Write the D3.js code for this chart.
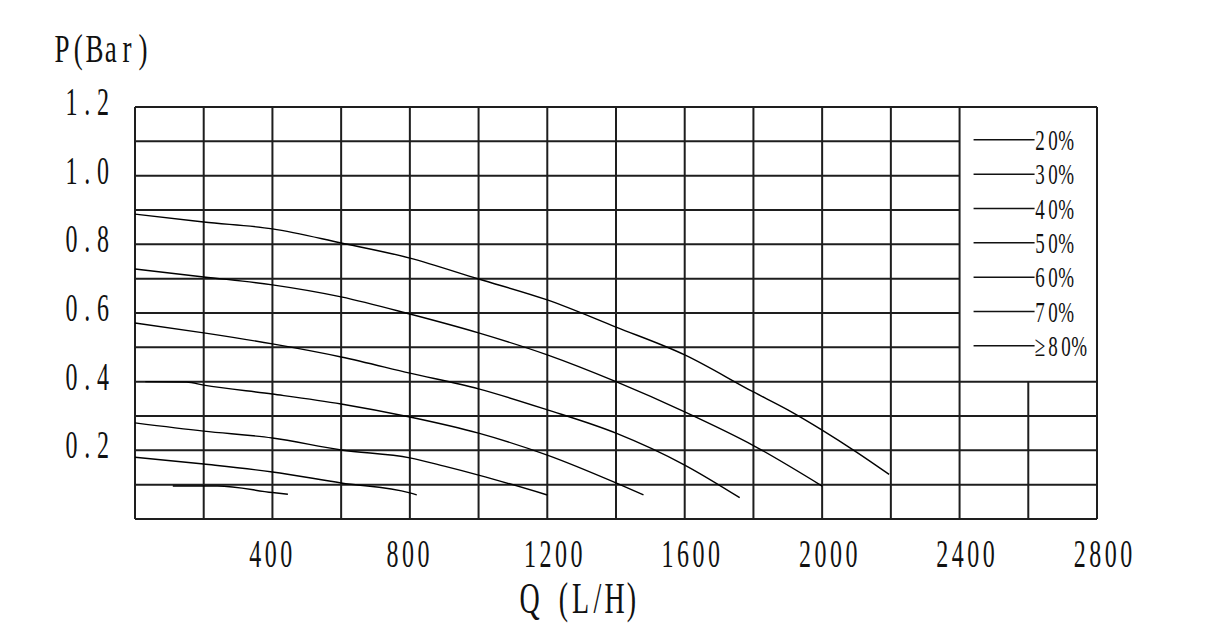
<!DOCTYPE html>
<html><head><meta charset="utf-8">
<script src="https://cdn.jsdelivr.net/npm/d3@7"></script>
<style>body{margin:0;background:#fff} svg{display:block}</style>
</head><body><svg id="c" width="1231" height="641"></svg>
<script>
// ---- data ----
const xTickLabels = [400, 800, 1200, 1600, 2000, 2400, 2800];
const yTickLabels = [1.2, 1.0, 0.8, 0.6, 0.4, 0.2];
const legendLabels = ["20%", "30%", "40%", "50%", "60%", "70%", "≥80%"];
const s20 = [[110,0.096],[240,0.096],[400,0.077],[445,0.072]];
const s30 = [[0,0.18],[200,0.16],[400,0.137],[600,0.105],[800,0.076],[820,0.07]];
const s40 = [[0,0.28],[200,0.256],[400,0.236],[600,0.201],[800,0.178],[900,0.154],[1000,0.128],[1200,0.07]];
const s50 = [[30,0.40],[150,0.399],[200,0.39],[400,0.364],[600,0.335],[800,0.297],[1000,0.25],[1200,0.186],[1400,0.105],[1480,0.07]];
const s60 = [[0,0.571],[200,0.542],[400,0.51],[600,0.472],[800,0.425],[1000,0.379],[1200,0.318],[1400,0.25],[1600,0.157],[1760,0.062]];
const s70 = [[0,0.728],[200,0.705],[400,0.682],[600,0.647],[800,0.597],[1000,0.542],[1200,0.478],[1400,0.40],[1600,0.312],[1800,0.214],[2000,0.096]];
const s80 = [[0,0.888],[200,0.865],[400,0.845],[600,0.804],[800,0.76],[1000,0.699],[1200,0.638],[1400,0.559],[1600,0.478],[1800,0.37],[1900,0.318],[2000,0.259],[2100,0.195],[2195,0.13]];
const series = [s20, s30, s40, s50, s60, s70, s80];

// ---- layout ----
const svg = d3.select("#c");
const x = d3.scaleLinear().domain([0, 2800]).range([135, 1097]);
const y = d3.scaleLinear().domain([0, 1.2]).range([519, 107]);
const gridColor = "#1e1e1e";
const FONT = "Liberation Serif";

// monospaced-cell text, stretched vertically
function label(px, py, str, size, sy, anchor, adv) {
  const chars = Array.from(str);
  const total = chars.length * adv;
  const start = anchor === "end" ? px - total : px;
  const t = svg.append("text")
    .attr("transform", `translate(${start},${py}) scale(1,${sy})`)
    .attr("font-family", FONT)
    .attr("font-size", size)
    .attr("fill", "#111")
    .attr("text-anchor", "middle");
  chars.forEach((c, i) => t.append("tspan").attr("x", i * adv + adv / 2).attr("y", 0).text(c));
}

// grid
const g = svg.append("g").attr("stroke", gridColor).attr("stroke-width", 2).attr("fill", "none");
d3.range(0, 2801, 200).forEach(v => {
  const top = v === 2600 ? 0.4 : 1.2;
  g.append("line").attr("x1", x(v)).attr("x2", x(v)).attr("y1", y(0)).attr("y2", y(top));
});
d3.range(0, 13).forEach(i => {
  const p = i / 10;
  const right = (i >= 5 && i <= 11) ? 2400 : 2800;
  g.append("line").attr("x1", x(0)).attr("x2", x(right)).attr("y1", y(p)).attr("y2", y(p));
});

// curves
const line = d3.line().x(d => x(d[0])).y(d => y(d[1])).curve(d3.curveMonotoneX);
svg.append("g").selectAll("path").data(series).join("path")
  .attr("d", line).attr("fill", "none").attr("stroke", "#000").attr("stroke-width", 1.4);

// legend
legendLabels.forEach((t, i) => {
  const ly = y(1.1 - i * 0.1) - 1.5;
  svg.append("line").attr("x1", x(2400) + 14).attr("x2", x(2400) + 75)
    .attr("y1", ly).attr("y2", ly).attr("stroke", "#111").attr("stroke-width", 1.5);
  label(x(2400) + 74, ly + 10, t, 19, 1.55, "start", 13);
});

// tick labels
yTickLabels.forEach(v => label(111, y(v) + 8, d3.format(".1f")(v), 24, 1.67, "end", 15.8));
xTickLabels.forEach(v => label(x(v) - 25, 567, String(v), 24, 1.67, "start", 15.5));

// axis titles
label(54, 62, "P(Bar)", 27, 1.5, "start", 16.2);
label(521, 613, "Q (L/H)", 28, 1.55, "start", 17);
</script></body></html>
